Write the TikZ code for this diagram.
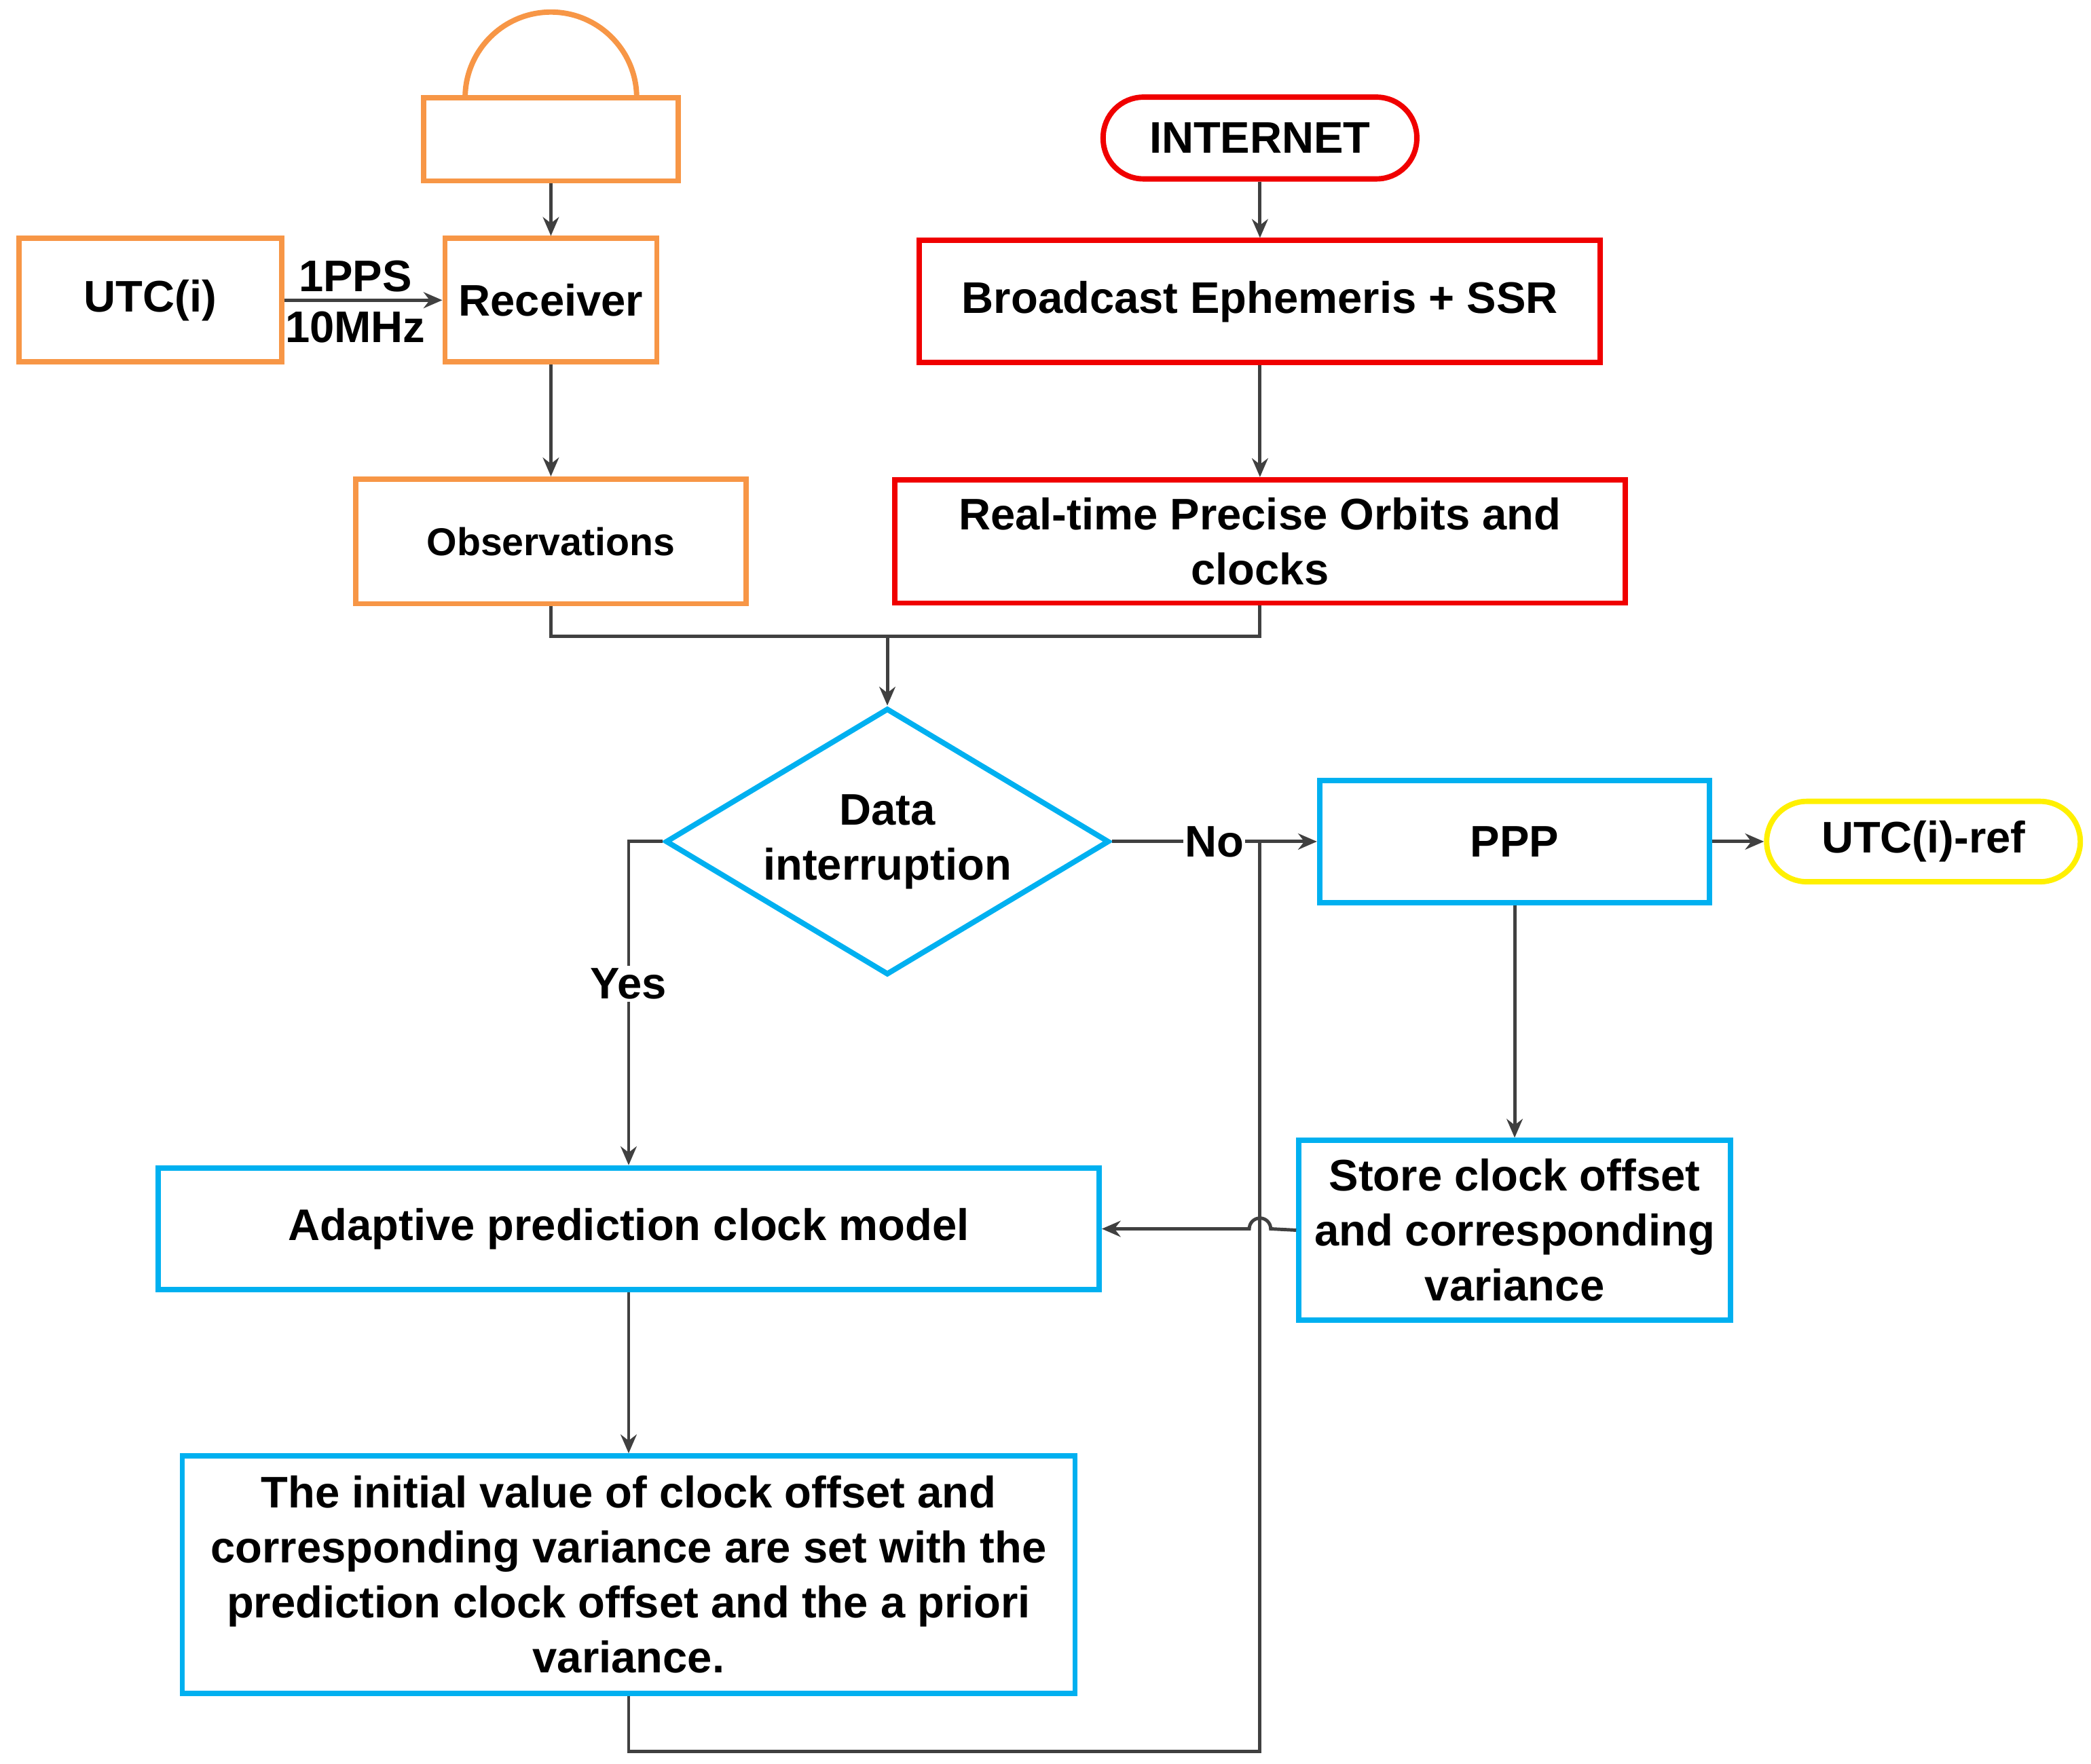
\documentclass[tikz,border=0pt]{standalone}
\usepackage{fontspec}
\setmainfont{Liberation Sans}
\usetikzlibrary{arrows.meta,shapes.geometric}
\definecolor{org}{RGB}{247,150,70}
\definecolor{rd}{RGB}{240,0,0}
\definecolor{bl}{RGB}{0,176,240}
\definecolor{yl}{RGB}{255,240,0}
\definecolor{ln}{RGB}{64,64,64}
\begin{document}
\begin{tikzpicture}[x=1pt,y=-1pt,
 font=\fontsize{33}{41}\selectfont\bfseries,
 box/.style={draw,line width=4pt,inner sep=0pt,align=center},
 ob/.style={box,draw=org},rb/.style={box,draw=rd},bb/.style={box,draw=bl},
 con/.style={draw=ln,line width=2.5pt},
 arr/.style={con,-{Stealth[length=14pt,width=12pt]}}]
\useasboundingbox (0,0) rectangle (1560,1316);
\node[ob,minimum width=190,minimum height=62] (ant) at (411,104) {};
\draw[org,line width=4pt] (347,73) arc[start angle=180,end angle=360,radius=64];
\node[ob,minimum width=196,minimum height=92] (utc) at (112,224) {UTC(i)};
\node[ob,minimum width=158,minimum height=92] (rec) at (411,224) {Receiver};
\node[ob,minimum width=291,minimum height=93] (obs) at (411,404) {\fontsize{29}{36}\selectfont Observations};
\node[rb,rounded corners=30,minimum width=234,minimum height=61] (int) at (940,103) {INTERNET};
\node[rb,minimum width=508,minimum height=91] (bro) at (940,225) {Broadcast Ephemeris + SSR};
\node[rb,minimum width=545,minimum height=92] (rt) at (940,404) {Real-time Precise Orbits and\\clocks};
\node[bb,diamond,aspect=1.66,minimum width=331,minimum height=199] (dia) at (662,628) {Data\\interruption};
\node[bb,minimum width=291,minimum height=91] (ppp) at (1130,628) {PPP};
\node[box,draw=yl,rounded corners=30,minimum width=234,minimum height=60] (ref) at (1435,628) {UTC(i)-ref};
\node[bb,minimum width=322,minimum height=134] (sto) at (1130,918) {Store clock offset\\and corresponding\\variance};
\node[bb,minimum width=702,minimum height=91] (ada) at (469,917) {Adaptive prediction clock model};
\node[bb,minimum width=666,minimum height=177] (ini) at (469,1175) {The initial value of clock offset and\\corresponding variance are set with the\\prediction clock offset and the a priori\\variance.};
\coordinate (m) at (662,475);
\coordinate (j) at (940,628);
\draw[arr] (ant) -- (rec);
\draw[arr] (utc) -- node[pos=0.45,above=5pt,inner sep=0pt]{1PPS} node[pos=0.45,below=7pt,inner sep=0pt]{10MHz} (rec);
\draw[arr] (rec) -- (obs);
\draw[arr] (int) -- (bro);
\draw[arr] (bro) -- (rt);
\draw[con] (obs.south) |- (m) -| (rt.south);
\draw[arr] (m) -- (dia.north);
\draw[arr] (dia.east) -- node[pos=0.5,fill=white,inner sep=1pt]{No} (ppp);
\draw[arr] (ppp) -- (ref);
\draw[arr] (ppp) -- (sto);
\draw[arr] (dia.west) -| node[pos=0.72,fill=white,inner sep=2pt]{Yes} (ada.north);
\draw[arr] (sto.west) -- (948,917) arc[start angle=0,end angle=-180,radius=8] -- (ada.east);
\draw[arr] (ada) -- (ini);
\draw[con] (ini.south) -- (469,1307) -| (j);
\end{tikzpicture}
\end{document}
